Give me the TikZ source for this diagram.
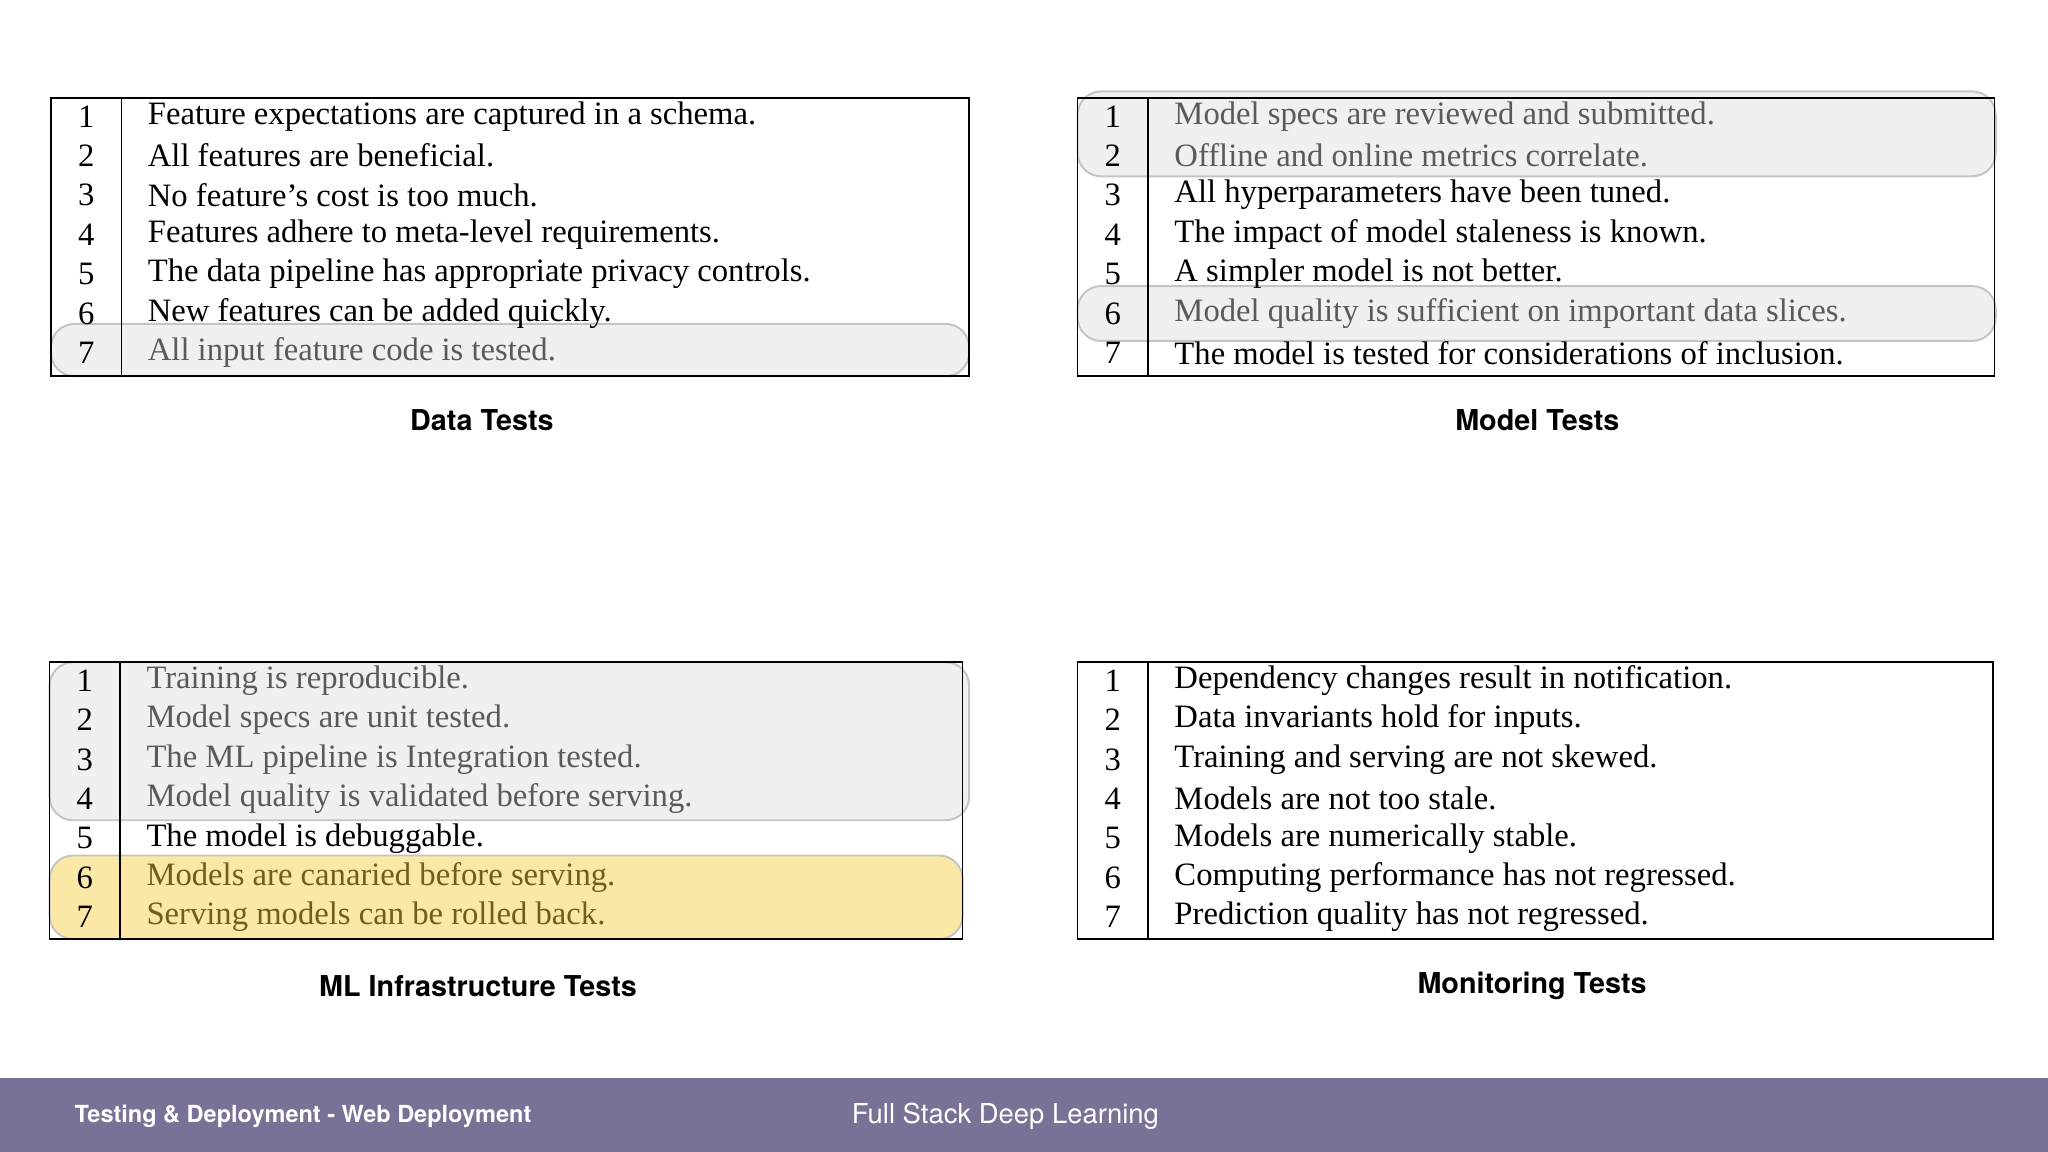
\documentclass[tikz,border=0pt]{standalone}
\usepackage{fontspec}
\setmainfont{Liberation Serif}
\newfontfamily\hel{TeX Gyre Heros}
\definecolor{hlgray}{HTML}{F0F0F0}
\definecolor{hledge}{HTML}{C4C4C4}
\definecolor{hlyel}{HTML}{FBE8A6}
\definecolor{yeltext}{HTML}{6E5F1A}
\definecolor{graytext}{HTML}{5A5A5A}
\definecolor{bar}{HTML}{7A7196}
\tikzset{
 rowtxt/.style={anchor=west,inner sep=0pt,font=\fontsize{25}{25}\selectfont},
 numtxt/.style={anchor=center,inner sep=0pt,font=\fontsize{25}{25}\selectfont},
 ttl/.style={font=\hel\bfseries\fontsize{22}{22}\selectfont,inner sep=0pt},
 tbox/.style={draw=black,line width=1.2pt},
 hlg/.style={fill=hlgray,draw=hledge,line width=1.5pt,rounded corners=18pt},
 hly/.style={fill=hlyel,draw=hledge,line width=1.5pt,rounded corners=18pt},
}
\newcommand{\mytable}[6]{% name, x0, x1, y0, divider x, list
 \foreach \t [count=\i] in {#6}{
  \node[numtxt] (#1n\i) at ({(#2+#5)/2},{#4+14+(\i-1)*30.2}) {\i};
  \node[rowtxt] (#1t\i) at (#5+20,{#4+14+(\i-1)*30.2}) {\t};
 }
}
\begin{document}
\begin{tikzpicture}[x=1pt,y=-1pt]
\useasboundingbox (0,0) rectangle (1568,882);
% highlights
\draw[hlg] (39,248) rectangle (742,288);
\draw[hlg] (825,70) rectangle (1528,135);
\draw[hlg] (825,219) rectangle (1528,261);
\draw[hlg] (38,507) rectangle (742,628);
\draw[hly] (38,655) rectangle (737,719);
% boxes
\draw[tbox] (39,75) rectangle (742,288); \draw[tbox] (93,75) -- (93,288);
\draw[tbox] (825,75) rectangle (1527,288); \draw[tbox] (879,75) -- (879,288);
\draw[tbox] (38,507) rectangle (737,719); \draw[tbox] (92,507) -- (92,719);
\draw[tbox] (825,507) rectangle (1526,719); \draw[tbox] (879,507) -- (879,719);
% tables
\mytable{d}{39}{742}{75}{93}{Feature expectations are captured in a schema.,All features are beneficial.,No feature’s cost is too much.,Features adhere to meta-level requirements.,The data pipeline has appropriate privacy controls.,New features can be added quickly.,\textcolor{graytext}{All input feature code is tested.}}
\mytable{m}{825}{1527}{75}{879}{\textcolor{graytext}{Model specs are reviewed and submitted.},\textcolor{graytext}{Offline and online metrics correlate.},All hyperparameters have been tuned.,The impact of model staleness is known.,A simpler model is not better.,\textcolor{graytext}{Model quality is sufficient on important data slices.},The model is tested for considerations of inclusion.}
\mytable{i}{38}{737}{507}{92}{\textcolor{graytext}{Training is reproducible.},\textcolor{graytext}{Model specs are unit tested.},\textcolor{graytext}{The ML pipeline is Integration tested.},\textcolor{graytext}{Model quality is validated before serving.},The model is debuggable.,\textcolor{yeltext}{Models are canaried before serving.},\textcolor{yeltext}{Serving models can be rolled back.}}
\mytable{o}{825}{1526}{507}{879}{Dependency changes result in notification.,Data invariants hold for inputs.,Training and serving are not skewed.,Models are not too stale.,Models are numerically stable.,Computing performance has not regressed.,Prediction quality has not regressed.}
% titles
\node[ttl] (t1) at (369,322) {Data Tests};
\node[ttl] (t2) at (1177,322) {Model Tests};
\node[ttl] (t3) at (366,755) {ML Infrastructure Tests};
\node[ttl] (t4) at (1173,755) {Monitoring Tests};
% footer
\fill[bar] (0,825) rectangle (1568,882);
\node[anchor=west,inner sep=0pt,text=white,font=\hel\bfseries\fontsize{18}{18}\selectfont] (f1) at (57,855) {Testing \& Deployment - Web Deployment};
\node[anchor=west,inner sep=0pt,text=white,font=\hel\fontsize{21}{21}\selectfont] (f2) at (652,855) {Full Stack Deep Learning};
\end{tikzpicture}
\end{document}
